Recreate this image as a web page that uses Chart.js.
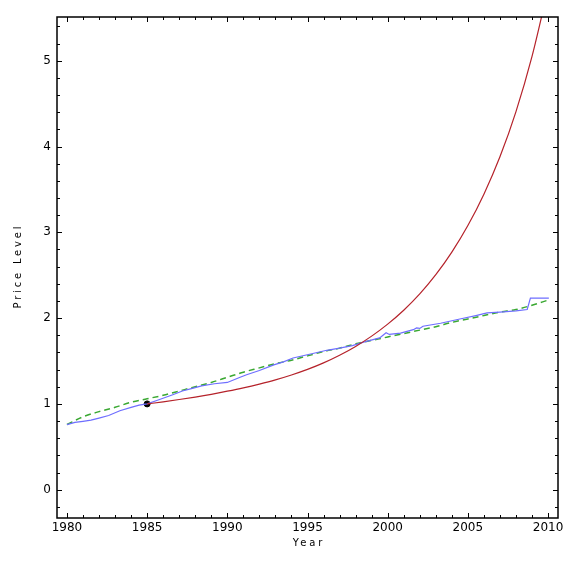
<!DOCTYPE html>
<html>
<head>
<meta charset="utf-8">
<script src="https://cdn.jsdelivr.net/npm/chart.js@4"></script>
<style>
  html, body { margin: 0; padding: 0; background: #fff; }
  canvas { display: block; }
</style>
</head>
<body>
<canvas id="priceChart" width="576" height="565"></canvas>
<script>
// Tick labels
const xTickLabels = [1980, 1985, 1990, 1995, 2000, 2005, 2010];
const yTickLabels = [0, 1, 2, 3, 4, 5];

// Price level series
const cpiYears = [1980.0, 1980.5, 1981.0, 1981.5, 1982.0, 1982.6, 1983.3, 1984.0, 1984.5, 1985.0,
    1985.6, 1986.6, 1987.2, 1987.7, 1988.4, 1989.2, 1990.0, 1990.8, 1991.2, 1992.0,
    1992.9, 1993.5, 1994.1, 1995.4, 1996.2, 1997.0, 1997.8, 1998.5, 1999.5, 1999.9,
    2000.1, 2000.8, 2001.6, 2001.8, 2002.0, 2002.2, 2003.3, 2004.5, 2005.5, 2006.2,
    2007.0, 2008.0, 2008.7, 2008.9, 2010.05];
const cpiLevel = [0.758, 0.785, 0.797, 0.81, 0.835, 0.865, 0.92, 0.96, 0.985, 1.0,
    1.04, 1.107, 1.15, 1.175, 1.21, 1.235, 1.25, 1.31, 1.34, 1.39,
    1.455, 1.49, 1.535, 1.59, 1.625, 1.65, 1.68, 1.72, 1.77, 1.83,
    1.81, 1.825, 1.865, 1.885, 1.88, 1.905, 1.94, 1.99, 2.03, 2.06,
    2.07, 2.085, 2.10, 2.234, 2.234];

const trendYears = [1980, 1981, 1982, 1983, 1984, 1985, 1986, 1987, 1988, 1989, 1990,
    1991, 1992, 1993, 1994, 1995, 1996, 1997, 1998, 1999, 2000,
    2001, 2002, 2003, 2004, 2005, 2006, 2007, 2008, 2009, 2010];
const trendLevel = [0.76, 0.85, 0.91, 0.96, 1.02, 1.06, 1.10, 1.15, 1.20, 1.25, 1.31,
    1.37, 1.42, 1.47, 1.51, 1.56, 1.61, 1.65, 1.70, 1.74, 1.78,
    1.82, 1.86, 1.90, 1.95, 1.99, 2.03, 2.07, 2.10, 2.15, 2.21];

const modelYears = [1985, 1986, 1987, 1988, 1989, 1990, 1991, 1992, 1993, 1994, 1995,
    1996, 1997, 1998, 1999, 2000, 2001, 2002, 2003, 2004, 2005,
    2006, 2007, 2008, 2009, 2010];
const modelLevel = [1.00, 1.024, 1.051, 1.080, 1.112, 1.148, 1.187, 1.231, 1.280, 1.337, 1.402,
    1.478, 1.567, 1.670, 1.790, 1.930, 2.092, 2.282, 2.506, 2.769, 3.079,
    3.445, 3.880, 4.407, 5.051, 5.838];

const baseYear = [1985];
const baseLevel = [1];

const pairs = (xs, ys) => xs.map((x, i) => ({ x: x, y: ys[i] }));

// Frame, inward ticks and spaced axis titles
const framePlugin = {
    id: 'frame',
    afterDraw(chart) {
        const { ctx, chartArea: { left, right, top, bottom }, scales: { x, y } } = chart;
        ctx.save();
        ctx.strokeStyle = '#000';
        ctx.lineWidth = 1;
        ctx.beginPath();
        for (let yr = 1980; yr <= 2010; yr++) {
            const px = Math.round(x.getPixelForValue(yr)) + 0.5;
            const len = yr % 5 === 0 ? 5 : 3;
            ctx.moveTo(px, bottom); ctx.lineTo(px, bottom - len);
            ctx.moveTo(px, top); ctx.lineTo(px, top + len);
        }
        for (let k = -1; k <= 27; k++) {
            const v = k / 5;
            const py = Math.round(y.getPixelForValue(v)) + 0.5;
            const len = k % 5 === 0 ? 5 : 3;
            ctx.moveTo(left, py); ctx.lineTo(left + len, py);
            ctx.moveTo(right, py); ctx.lineTo(right - len, py);
        }
        ctx.stroke();

        ctx.lineWidth = 1.5;
        ctx.strokeRect(left, top, right - left, bottom - top);

        ctx.fillStyle = '#000';
        ctx.font = '10px "DejaVu Sans"';
        ctx.letterSpacing = '2.8px';
        ctx.textAlign = 'center';
        ctx.textBaseline = 'middle';
        ctx.fillText('Year', (left + right) / 2 + 1.4, 543);
        ctx.translate(18, (top + bottom) / 2);
        ctx.rotate(-Math.PI / 2);
        ctx.fillText('Price Level', 1.4, 0);
        ctx.restore();
    }
};

const ctx = document.getElementById('priceChart').getContext('2d');
const chart = new Chart(ctx, {
    type: 'line',
    data: {
        datasets: [
            {
                data: pairs(modelYears, modelLevel),
                borderColor: '#b5222a',
                borderWidth: 1.2,
                pointRadius: 0,
                cubicInterpolationMode: 'monotone'
            },
            {
                data: pairs(cpiYears, cpiLevel),
                borderColor: '#6e6eff',
                borderWidth: 1.2,
                pointRadius: 0,
                tension: 0
            },
            {
                data: pairs(trendYears, trendLevel),
                borderColor: '#3aa832',
                borderWidth: 1.5,
                borderDash: [6, 4],
                pointRadius: 0,
                cubicInterpolationMode: 'monotone'
            },
            {
                data: pairs(baseYear, baseLevel),
                showLine: false,
                pointRadius: 3,
                pointBackgroundColor: '#000',
                pointBorderColor: '#000'
            }
        ]
    },
    options: {
        responsive: false,
        animation: false,
        layout: { padding: { left: 0, right: 18, top: 17, bottom: 0 } },
        plugins: { legend: { display: false }, tooltip: { enabled: false } },
        scales: {
            x: {
                type: 'linear',
                min: 1979.38,
                max: 2010.62,
                grid: { display: false, drawTicks: false },
                border: { display: false },
                afterBuildTicks: s => { s.ticks = xTickLabels.map(v => ({ value: v })); },
                afterFit: s => { s.height = 47; },
                ticks: {
                    padding: 3,
                    color: '#000',
                    font: { family: 'DejaVu Sans', size: 12 },
                    callback: v => String(v)
                }
            },
            y: {
                type: 'linear',
                min: -0.33,
                max: 5.51,
                grid: { display: false, drawTicks: false },
                border: { display: false },
                afterBuildTicks: s => { s.ticks = yTickLabels.map(v => ({ value: v })); },
                afterFit: s => { s.width = 57; },
                ticks: {
                    padding: 6,
                    color: '#000',
                    font: { family: 'DejaVu Sans', size: 12 },
                    callback: v => String(v)
                }
            }
        }
    },
    plugins: [framePlugin]
});
</script>
</body>
</html>
